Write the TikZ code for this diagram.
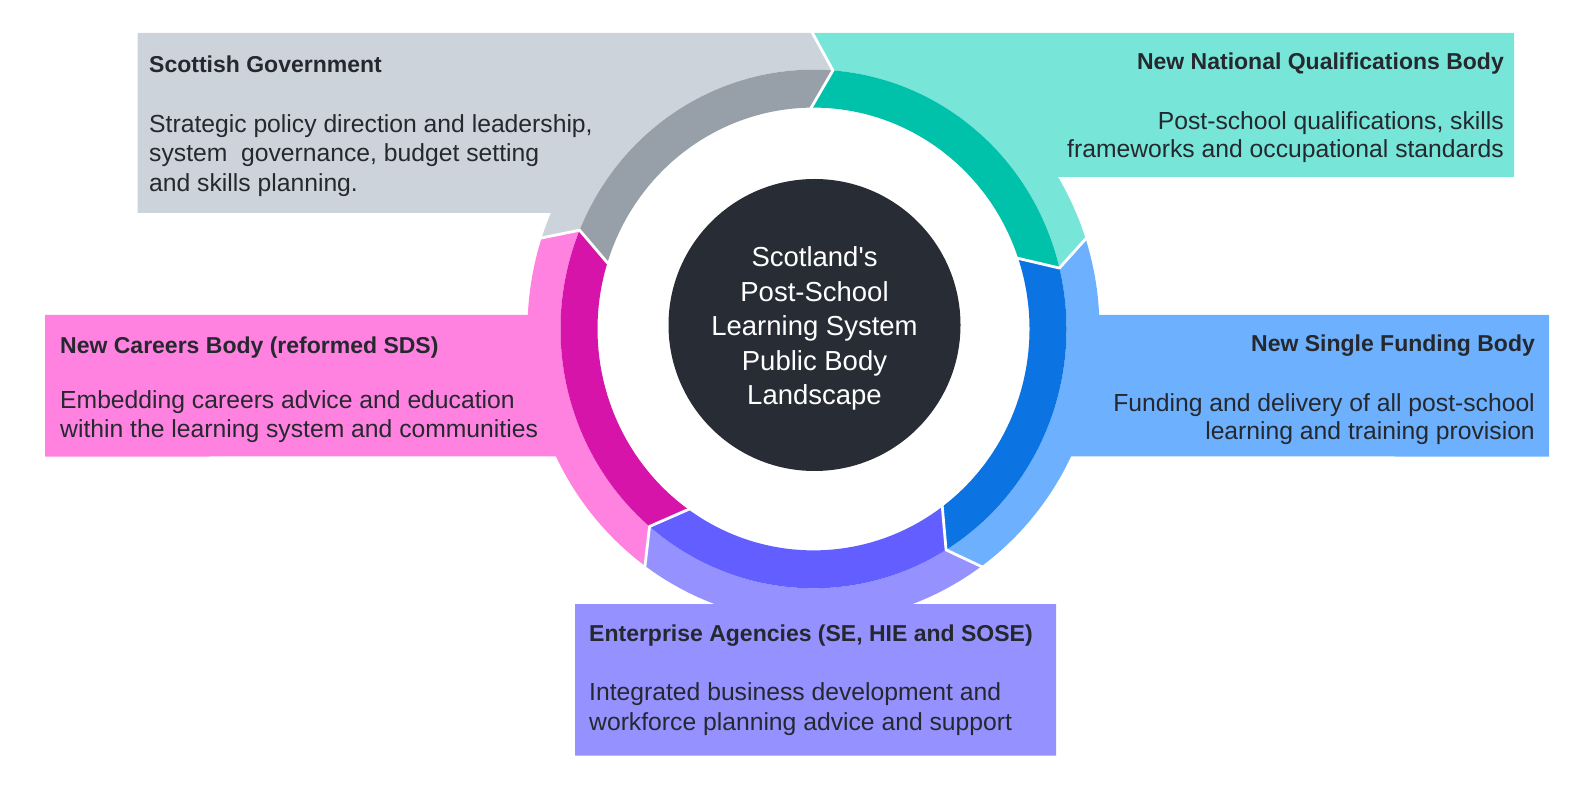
\documentclass[tikz,border=0pt]{standalone}
\usepackage{fontspec}
\setmainfont{Liberation Sans}
\usetikzlibrary{calc}
\definecolor{graylt}{HTML}{CDD3DB}
\definecolor{graydk}{HTML}{979FA8}
\definecolor{teallt}{HTML}{77E5D8}
\definecolor{tealdk}{HTML}{00C1A9}
\definecolor{bluelt}{HTML}{6DB0FE}
\definecolor{bluedk}{HTML}{0C73E3}
\definecolor{purplt}{HTML}{9592FF}
\definecolor{purpdk}{HTML}{625EFF}
\definecolor{pinklt}{HTML}{FF82E0}
\definecolor{pinkdk}{HTML}{D714A9}
\definecolor{hubcol}{HTML}{282C34}
\definecolor{txt}{HTML}{25282E}
\newcommand\darkseg[3]{\fill[#3] (#1:253) arc[start angle=#1,end angle=#2,radius=253] -- ({#2+5}:216) arc[start angle={#2+5},end angle={#1+5},radius=216] -- cycle;}
\newcommand\gapline[1]{\draw[gapstyle] ($(#1:253)!1.18!({#1+5}:216)$) -- (#1:253) -- ($(#1:253)!1.4!({#1+4.3}:286)$);}
\begin{document}
\begin{tikzpicture}[x=1pt,y=1pt,
  gapstyle/.style={draw=white, line width=2.8pt, line join=round, line cap=round},
  ttl/.style={font=\fontsize{23}{28}\selectfont\bfseries, text=txt, inner sep=0pt},
  bdy/.style={font=\fontsize{24.7}{29}\selectfont, text=txt, inner sep=0pt},
  ctr/.style={font=\fontsize{27.5}{34}\selectfont, text=white, inner sep=0pt, anchor=base}]
\useasboundingbox (0,0) rectangle (1584,790);
\begin{scope}[shift={(813.5,461)}, yscale=1.025]
  % light tabs
  \fill[graylt] (-675.8,288.8) -- (-1.07,288.8) -- (85.6:253) arc[start angle=85.6,end angle=157.6,radius=253] -- (161.9:286) arc[start angle=161.9,end angle=156.68,radius=286] -- (-675.8,113.2) -- cycle;
  \fill[teallt] (-1.07,288.8) -- (700.5,288.8) -- (700.5,148.3) -- (31.24:286) arc[start angle=31.24,end angle=17.9,radius=286] -- (13.6:253) arc[start angle=13.6,end angle=85.6,radius=253] -- cycle;
  \fill[bluelt] (-58.4:253) arc[start angle=-58.4,end angle=13.6,radius=253] -- (17.9:286) arc[start angle=17.9,end angle=2.74,radius=286] -- (735.5,13.66) -- (735.5,-124.4) -- (-25.78:286) arc[start angle=-25.78,end angle=-54.1,radius=286] -- cycle;
  \fill[purplt] (-130.4:253) arc[start angle=-130.4,end angle=-58.4,radius=253] -- (-54.1:286) arc[start angle=-54.1,end angle=-69.74,radius=286] -- (242.5,-268.3) -- (242.5,-416.1) -- (-238.5,-416.1) -- (-238.5,-268.3) -- (-110.26:286) arc[start angle=-110.26,end angle=-126.1,radius=286] -- cycle;
  \fill[pinklt] (157.6:253) arc[start angle=157.6,end angle=229.6,radius=253] -- (233.9:286) arc[start angle=233.9,end angle=205.78,radius=286] -- (-768.5,-124.4) -- (-768.5,13.66) -- (177.26:286) arc[start angle=177.26,end angle=161.9,radius=286] -- cycle;
  % dark inner ring
  \darkseg{85.6}{157.6}{graydk}
  \darkseg{13.6}{85.6}{tealdk}
  \darkseg{-58.4}{13.6}{bluedk}
  \darkseg{-130.4}{-58.4}{purpdk}
  \darkseg{157.6}{229.6}{pinkdk}
  % white gaps
  \gapline{85.6}
  \gapline{13.6}
  \gapline{-58.4}
  \gapline{-130.4}
  \gapline{157.6}
\end{scope}
% hub
\node[circle, fill=hubcol, minimum size=292pt, inner sep=0pt] (hub) at (814.5,465) {};
\node[ctr] (c1) at (814.5,523.3) {Scotland\textquotesingle s};
\node[ctr] (c2) at (814.5,488.5) {Post-School};
\node[ctr] (c3) at (814.5,454) {Learning System};
\node[ctr] (c4) at (814.5,419.3) {Public Body};
\node[ctr] (c5) at (814.5,385) {Landscape};
% Scottish Government
\node[ttl, anchor=base west] (sgT) at (149,717.7) {Scottish Government};
\node[bdy, anchor=base west] (sg1) at (149,657.2) {Strategic policy direction and leadership,};
\node[bdy, anchor=base west] (sg2) at (149,628) {system\ \ governance, budget setting};
\node[bdy, anchor=base west] (sg3) at (149,598.5) {and skills planning.};
% NQB
\node[ttl, anchor=base east] (nqT) at (1504,720) {New National Qualifications Body};
\node[bdy, anchor=base east] (nq1) at (1504,660.7) {Post-school qualifications, skills};
\node[bdy, anchor=base east] (nq2) at (1504,632.3) {frameworks and occupational standards};
% Careers
\node[ttl, anchor=base west] (cbT) at (60,436.7) {New Careers Body (reformed SDS)};
\node[bdy, anchor=base west] (cb1) at (60,381.5) {Embedding careers advice and education};
\node[bdy, anchor=base west] (cb2) at (60,352.7) {within the learning system and communities};
% Funding
\node[ttl, anchor=base east] (fbT) at (1535,438) {New Single Funding Body};
\node[bdy, anchor=base east] (fb1) at (1535,378) {Funding and delivery of all post-school};
\node[bdy, anchor=base east] (fb2) at (1535,350) {learning and training provision};
% Enterprise
\node[ttl, anchor=base west] (eaT) at (589,148.3) {Enterprise Agencies (SE, HIE and SOSE)};
\node[bdy, anchor=base west] (ea1) at (589,89.3) {Integrated business development and};
\node[bdy, anchor=base west] (ea2) at (589,60) {workforce planning advice and support};
\end{tikzpicture}
\end{document}
